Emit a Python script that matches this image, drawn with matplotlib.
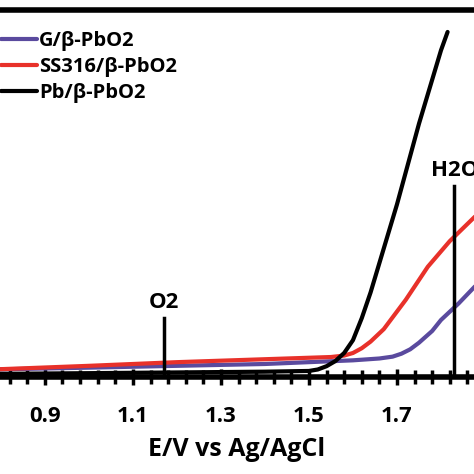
import numpy as np
import matplotlib
matplotlib.use("Agg")
import matplotlib.pyplot as plt
from matplotlib.ticker import FixedLocator

plt.rcParams['font.family'] = ['Open Sans', 'DejaVu Sans']
plt.rcParams['font.weight'] = 'bold'

labels = ["G/β-PbO2", "SS316/β-PbO2", "Pb/β-PbO2"]
colors = ["#5a4a9e", "#e8312a", "#000000"]
g_x = [0.78, 1.0, 1.2, 1.4, 1.5, 1.6, 1.66, 1.69, 1.71, 1.73, 1.75, 1.78, 1.8, 1.84, 1.88]
g_y = [2.0, 2.5, 3.0, 3.5, 4.0, 4.5, 5.0, 5.5, 6.3, 7.5, 9.3, 12.5, 15.5, 20, 25]
r_x = [0.78, 1.0, 1.2, 1.4, 1.55, 1.58, 1.6, 1.62, 1.64, 1.67, 1.72, 1.77, 1.82, 1.88]
r_y = [2.0, 3.0, 4.0, 4.8, 5.4, 5.8, 6.5, 7.8, 9.6, 13, 21, 30, 37, 44]
b_x = [0.78, 1.0, 1.2, 1.4, 1.5, 1.52, 1.54, 1.56, 1.58, 1.6, 1.62, 1.64, 1.7, 1.75, 1.8, 1.815]
b_y = [0.8, 1.0, 1.2, 1.4, 1.6, 2.0, 2.9, 4.3, 6.5, 10, 16, 23, 47, 69, 89, 94]
series = [(g_x, g_y), (r_x, r_y), (b_x, b_y)]
marks = [(1.17, 16, "O2"), (1.83, 52, "H2O")]

fig = plt.figure(figsize=(4.74, 4.74), dpi=100)
ax = fig.add_axes([-0.0, 0.205, 1.0, 0.774])
for (x, y), c, l in zip(series, colors, labels):
    ax.plot(x, y, color=c, lw=3, label=l, solid_capstyle='round', solid_joinstyle='round')
for xm, h, t in marks:
    ax.plot([xm, xm], [0, h], color='black', lw=2.5)
    ax.text(xm, h + 1.5, t, ha='center', va='bottom', fontsize=16, fontweight='bold')
ax.set_xlim(0.798, 1.875)
ax.set_ylim(0, 100)
ax.set_yticks([])
for s in ['left', 'right']:
    ax.spines[s].set_visible(False)
ax.spines['bottom'].set_linewidth(4)
ax.spines['top'].set_linewidth(4)
ax.xaxis.set_major_locator(FixedLocator([0.9, 1.1, 1.3, 1.5, 1.7, 1.9]))
ax.xaxis.set_minor_locator(FixedLocator(np.arange(0.82, 1.9, 0.04)))
ax.tick_params(axis='x', which='major', direction='inout', length=12, width=2.5, labelsize=16, pad=15)
ax.tick_params(axis='x', which='minor', direction='inout', length=10, width=2.5)
for lab in ax.get_xticklabels():
    lab.set_fontweight('bold')
ax.set_xlabel("E/V vs Ag/AgCl", fontsize=18, fontweight='bold', labelpad=7)
leg = ax.legend(loc='upper left', bbox_to_anchor=(-0.015, 0.965), frameon=False, fontsize=14.5,
                handlelength=1.8, handletextpad=0.1, labelspacing=0.3, borderaxespad=0)
fig.savefig("out.png", dpi=100)
